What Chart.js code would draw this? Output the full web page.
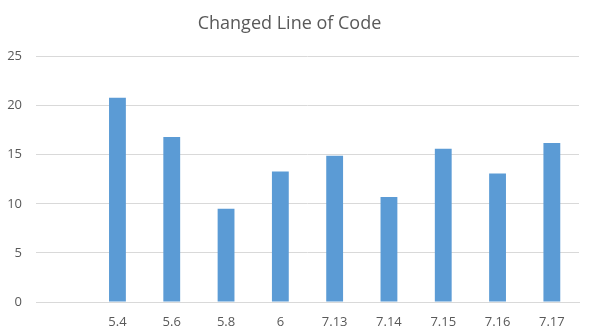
<!DOCTYPE html>
<html>
<head>
<meta charset="utf-8">
<script src="https://cdn.jsdelivr.net/npm/chart.js@4"></script>
<style>
  html, body { margin: 0; padding: 0; background: #fff; }
  #wrap { width: 589px; height: 336px; }
</style>
</head>
<body>
<div id="wrap"><canvas id="myChart"></canvas></div>
<script>
// first slot is empty in the original chart
const versions = ['', '5.4', '5.6', '5.8', '6', '7.13', '7.14', '7.15', '7.16', '7.17']
const changedLines = [null, 20.8, 16.8, 9.5, 13.3, 14.9, 10.7, 15.6, 13.1, 16.2]
const yTicks = [0, 5, 10, 15, 20, 25]

const textColor = '#595959'
const gridColor = '#d9d9d9'

new Chart(document.getElementById('myChart'), {
  type: 'bar',
  data: {
    labels: versions,
    datasets: [{
      data: changedLines,
      backgroundColor: '#5b9bd5',
      categoryPercentage: 1,
      barPercentage: 0.31
    }]
  },
  options: {
    responsive: true,
    maintainAspectRatio: false,
    animation: false,
    layout: { padding: { left: 0, right: 10, top: 0, bottom: 0 } },
    plugins: {
      legend: { display: false },
      tooltip: { enabled: false },
      title: {
        display: true,
        text: 'Changed Line of Code',
        color: textColor,
        font: { family: 'Open Sans', size: 18, weight: 'normal' },
        padding: { top: 13, bottom: 22 }
      }
    },
    scales: {
      x: {
        grid: { display: false },
        border: { display: true, color: gridColor, width: 1 },
        ticks: {
          color: textColor,
          font: { family: 'Open Sans', size: 13 },
          padding: 4,
          maxRotation: 0
        },
        afterFit: s => { s.height = 34 }
      },
      y: {
        min: 0,
        max: 25,
        afterBuildTicks: s => { s.ticks = yTicks.map(v => ({ value: v })) },
        grid: { color: gridColor, drawTicks: false },
        border: { display: false },
        ticks: {
          color: textColor,
          font: { family: 'Open Sans', size: 13 },
          padding: 14
        },
        afterFit: s => { s.width = 36 }
      }
    }
  }
})
</script>
</body>
</html>
